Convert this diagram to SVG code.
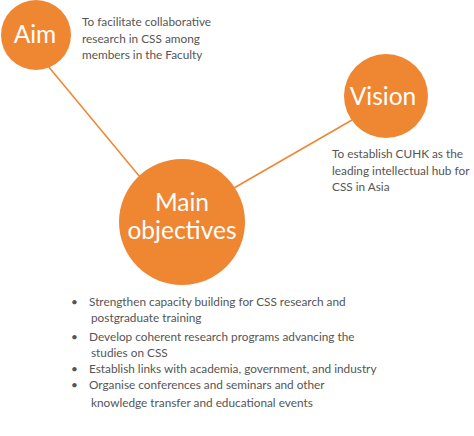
<svg xmlns="http://www.w3.org/2000/svg" width="474" height="436" viewBox="0 0 474 436">
<style>
.c{fill:#EF8632}
.t{fill:#fff;font-family:Lato,"Liberation Sans",sans-serif;font-size:24.5px;text-anchor:middle}
.s{fill:#555;font-family:Lato,"Liberation Sans",sans-serif;font-size:11.8px}
.e{stroke:#EF8632;stroke-width:1.5;fill:none}
</style>
<rect width="474" height="436" fill="#fff"/>
<g id="connectors">
<line class="e" x1="48" y1="66" x2="140" y2="177"/>
<line class="e" x1="352" y1="120" x2="234" y2="188"/>
</g>
<g id="aim">
<circle class="c" cx="36" cy="35" r="35"/>
<text class="t" x="35" y="43">Aim</text>
<text class="s" x="82" y="26">To facilitate collaborative</text>
<text class="s" x="82" y="43">research in CSS among</text>
<text class="s" x="82" y="59">members in the Faculty</text>
</g>
<g id="vision">
<circle class="c" cx="386" cy="96" r="42"/>
<text class="t" x="383" y="105">Vision</text>
<text class="s" x="332" y="158">To establish CUHK as the</text>
<text class="s" x="332" y="175">leading intellectual hub for</text>
<text class="s" x="332" y="191">CSS in Asia</text>
</g>
<g id="main">
<circle class="c" cx="182" cy="222" r="63"/>
<text class="t" x="182" y="211">Main</text>
<text class="t" x="182" y="239">objectives</text>
</g>
<g id="objectives">
<text class="s" x="71" y="306">•</text>
<text class="s" x="89" y="306">Strengthen capacity building for CSS research and</text>
<text class="s" x="91" y="322">postgraduate training</text>
<text class="s" x="71" y="341">•</text>
<text class="s" x="89" y="341">Develop coherent research programs advancing the</text>
<text class="s" x="91" y="357">studies on CSS</text>
<text class="s" x="71" y="373">•</text>
<text class="s" x="89" y="373">Establish links with academia, government, and industry</text>
<text class="s" x="71" y="389">•</text>
<text class="s" x="89" y="389">Organise conferences and seminars and other</text>
<text class="s" x="91" y="407">knowledge transfer and educational events</text>
</g>
</svg>
